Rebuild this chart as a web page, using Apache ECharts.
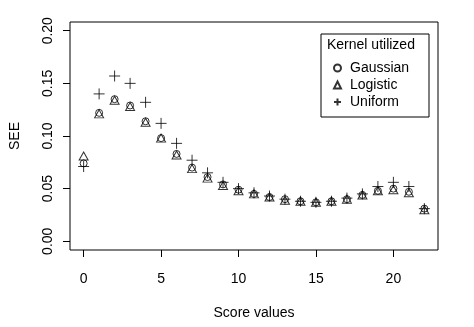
<!DOCTYPE html>
<html>
<head>
<meta charset="utf-8">
<script src="https://cdn.jsdelivr.net/npm/echarts@6/dist/echarts.min.js"></script>
<style>
  html, body { margin: 0; padding: 0; background: #fff; }
  #chart { width: 474px; height: 327px; }
</style>
</head>
<body>
<div id="chart"></div>
<script>
// Score values 0..22
const scores = [0,1,2,3,4,5,6,7,8,9,10,11,12,13,14,15,16,17,18,19,20,21,22];

// Standard error of equating per kernel
const gaussian = [0.074,0.122,0.135,0.129,0.114,0.098,0.083,0.070,0.061,0.054,0.049,0.045,0.042,0.040,0.038,0.037,0.038,0.040,0.044,0.048,0.050,0.047,0.031];
const logistic = [0.081,0.121,0.134,0.128,0.113,0.098,0.082,0.069,0.060,0.053,0.048,0.045,0.042,0.039,0.038,0.037,0.038,0.040,0.044,0.048,0.049,0.046,0.030];
const uniform  = [0.071,0.140,0.157,0.150,0.132,0.112,0.093,0.077,0.065,0.056,0.050,0.046,0.043,0.040,0.038,0.037,0.038,0.041,0.045,0.052,0.056,0.052,0.031];

const xTicks = [0, 5, 10, 15, 20];
const yTicks = [0, 0.05, 0.10, 0.15, 0.20];
const seriesNames = ['Gaussian', 'Logistic', 'Uniform'];
const legendTitle = 'Kernel utilized';

const FONT = "'Liberation Sans', Arial, Helvetica, sans-serif";
const pairs = vals => scores.map((s, i) => [s, vals[i]]);
const hollow = { color: 'rgba(0,0,0,0)', borderColor: '#000', borderWidth: 1 };

const chart = echarts.init(document.getElementById('chart'), null, { renderer: 'canvas' });
chart.setOption({
  animation: false,
  backgroundColor: '#fff',
  textStyle: { fontFamily: FONT },
  grid: {
    left: 70, right: 36, top: 22, bottom: 77,
    show: true, borderColor: '#000', borderWidth: 1, backgroundColor: 'transparent'
  },
  xAxis: {
    type: 'value', min: -0.88, max: 22.88,
    name: 'Score values', nameLocation: 'middle', nameGap: 56,
    nameTextStyle: { fontSize: 14, color: '#000', fontFamily: FONT },
    axisLine: { show: false, onZero: false },
    axisTick: { show: true, inside: false, length: 7, customValues: xTicks, lineStyle: { color: '#000' } },
    axisLabel: { customValues: xTicks, fontSize: 14, color: '#000', margin: 22, fontFamily: FONT },
    splitLine: { show: false }
  },
  yAxis: {
    type: 'value', min: -0.0083, max: 0.2083,
    name: 'SEE', nameLocation: 'middle', nameGap: 48, nameRotate: 90,
    nameTextStyle: { fontSize: 14, color: '#000', fontFamily: FONT },
    axisLine: { show: false, onZero: false },
    axisTick: { show: true, inside: false, length: 7, customValues: yTicks, lineStyle: { color: '#000' } },
    axisLabel: {
      customValues: yTicks, rotate: 90, fontSize: 14, color: '#000', margin: 15, fontFamily: FONT,
      formatter: v => v.toFixed(2)
    },
    splitLine: { show: false }
  },
  legend: {
    data: seriesNames,
    orient: 'vertical', left: 333, top: 61, padding: 0,
    itemWidth: 7, itemHeight: 7, itemGap: 3,
    textStyle: { fontSize: 14, color: '#000', fontFamily: FONT, padding: [0, 0, 0, 4] },
    selectedMode: false
  },
  graphic: [
    {
      type: 'rect', z: -1,
      shape: { x: 321, y: 34, width: 108, height: 83 },
      style: { fill: '#fff', stroke: '#000', lineWidth: 1 }
    },
    {
      type: 'text', left: 327, top: 38,
      style: { text: legendTitle, font: '14px ' + FONT, fill: '#000' }
    }
  ],
  series: [
    {
      name: seriesNames[0], type: 'scatter', data: pairs(gaussian),
      symbol: 'circle', symbolSize: 7, itemStyle: hollow, emphasis: { disabled: true }
    },
    {
      name: seriesNames[1], type: 'scatter', data: pairs(logistic),
      symbol: 'triangle', symbolSize: [9, 8], itemStyle: hollow, emphasis: { disabled: true }
    },
    {
      name: seriesNames[2], type: 'scatter', data: pairs(uniform),
      symbol: 'path://M0,6H12M6,0V12', symbolSize: 11, itemStyle: hollow, emphasis: { disabled: true }
    }
  ]
});
</script>
</body>
</html>
